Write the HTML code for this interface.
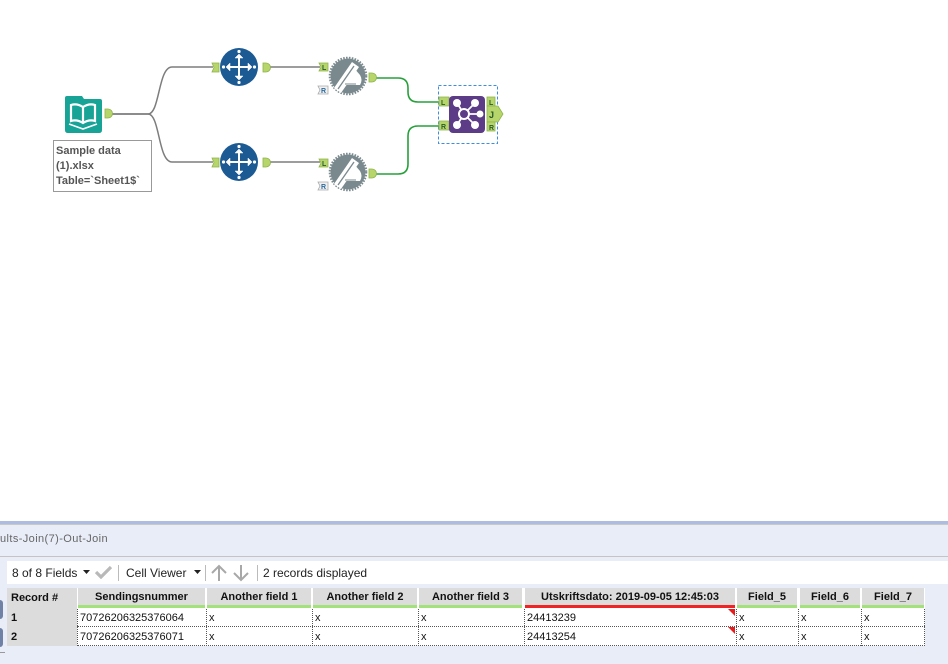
<!DOCTYPE html>
<html><head><meta charset="utf-8"><style>
*{margin:0;padding:0;box-sizing:border-box}
body{width:948px;height:664px;overflow:hidden;background:#fff;font-family:"Liberation Sans",sans-serif;position:relative}
.a{position:absolute}
.hd{position:absolute;top:588px;height:20px;background:#dcdcdc;border-bottom:3px solid #a3e27b;font-weight:bold;font-size:11px;color:#111;text-align:center;line-height:18px;white-space:nowrap}
.vl{position:absolute;width:0;border-left:1px dotted #555;top:609px;height:37px}
.tx{position:absolute;font-size:11px;color:#111;white-space:nowrap;line-height:12px}
</style></head><body>
<svg class="a" style="left:0;top:0" width="948" height="521" viewBox="0 0 948 521">
<g fill="none" stroke="#7d7d7d" stroke-width="1.5">
<path d="M110,114 H148 C160,114 158,67 172,67 H213"/>
<path d="M110,114 H148 C160,114 158,162 172,162 H213"/>
<path d="M270,67 H320"/>
<path d="M270,162 H320"/>
</g>
<g fill="none" stroke="#26a03a" stroke-width="1.6">
<path d="M375,78 H398 Q408,78 408,88 V92 Q408,102 418,102 H440"/>
<path d="M375,174 H398 Q408,174 408,164 V136 Q408,126 418,126 H440"/>
</g>
<path d="M65,98 Q65,96 67,96 H82 L84,99 H100 Q102,99 102,101 V130 Q102,133 99,133 H68 Q65,133 65,130 Z" fill="#17a396"/>
<g fill="none" stroke="#fff" stroke-width="2.2">
<path d="M71,105 Q77,103 83,107 Q89,103 95,105 V121 Q89,119 83,123 Q77,119 71,121 Z"/>
<path d="M83,107 V123"/>
<path d="M69,124 L83,129 L97,124" stroke-width="1.6"/>
</g>
<path d="M105,109 h3 a4.5 4.5 0 0 1 0 9 h-3 z" fill="#b6d66b" stroke="#8fb34a" stroke-width="0.8"/>
<rect x="53.5" y="140.5" width="98" height="51" fill="#fff" stroke="#999"/>
<g font-family="Liberation Sans,sans-serif" font-size="11" font-weight="bold" fill="#555">
<text x="56" y="154">Sample data</text>
<text x="56" y="169">(1).xlsx</text>
<text x="56" y="184">Table=`Sheet1$`</text>
</g>
<g id="sel">
<path d="M212,63 h7 v9 h-7 l2,-4.5 z" fill="#b6d66b" stroke="#8fb34a" stroke-width="0.8"/>
<circle cx="239" cy="67" r="19" fill="#1b5a93"/>
<g stroke="#fff" stroke-width="2" fill="#fff">
<path d="M229,67 H249 M239,57 V77"/>
<path d="M226,67 l4,-4 v8 z M252,67 l-4,-4 v8 z M239,54 l-4,4 h8 z M239,80 l-4,-4 h8 z" stroke-width="0.5"/>
<circle cx="223.5" cy="67" r="1.6" stroke="none"/><circle cx="254.5" cy="67" r="1.6" stroke="none"/>
<circle cx="239" cy="51.5" r="1.6" stroke="none"/><circle cx="239" cy="82.5" r="1.6" stroke="none"/>
</g>
<path d="M263,63 h3 a4.5 4.5 0 0 1 0 9 h-3 z" fill="#b6d66b" stroke="#8fb34a" stroke-width="0.8"/>
</g>
<use href="#sel" transform="translate(0,95)"/>
<g id="frm">
<path d="M319,63 h9 v8 h-9 l2,-4 z" fill="#b6d66b" stroke="#8fb34a" stroke-width="0.8"/>
<text x="322" y="70" font-family="Liberation Sans,sans-serif" font-size="7" font-weight="bold" fill="#2a5a2a">L</text>
<path d="M318,86 h10 v8 h-10 l2,-4 z" fill="#f0f0f0" stroke="#aaa" stroke-width="0.8"/>
<text x="321" y="93" font-family="Liberation Sans,sans-serif" font-size="7" font-weight="bold" fill="#2a6aa0">R</text>
<circle cx="348" cy="76" r="17.5" fill="#7a898d"/>
<circle cx="348" cy="76" r="18.3" fill="none" stroke="#7a898d" stroke-width="2" stroke-dasharray="1.6 1.3"/>
<path d="M343,85 L360,85 Q363,80 360,75 L354,68 Z" fill="#fff"/>
<path d="M334,88 L352,62 L359,67 L341,93 Z" fill="#fff"/>
<path d="M338,89 L354,66" stroke="#7a898d" stroke-width="1.3"/>
<path d="M345,84 L356,84" stroke="#7a898d" stroke-width="1"/>
<path d="M369,73 h3 a4.5 4.5 0 0 1 0 9 h-3 z" fill="#b6d66b" stroke="#8fb34a" stroke-width="0.8"/>
</g>
<use href="#frm" transform="translate(0,96)"/>
<rect x="438.5" y="85.5" width="59" height="58" fill="none" stroke="#3d8ee0" stroke-width="1" stroke-dasharray="3 2"/>
<path d="M439,97 h10 v9 h-10 z" fill="#b6d66b" stroke="#8fb34a" stroke-width="0.8"/>
<text x="441" y="105" font-family="Liberation Sans,sans-serif" font-size="7" font-weight="bold" fill="#2a5a2a">L</text>
<path d="M439,121 h10 v9 h-10 z" fill="#b6d66b" stroke="#8fb34a" stroke-width="0.8"/>
<text x="441" y="129" font-family="Liberation Sans,sans-serif" font-size="7" font-weight="bold" fill="#2a5a2a">R</text>
<rect x="449" y="96" width="36" height="37" rx="4" fill="#5c3b87"/>
<g stroke="#fff" stroke-width="1.8" fill="none">
<path d="M464,114 L457,103 M464,114 L475,103 M464,114 L480,114 M464,114 L457,125 M464,114 L475,125"/>
</g>
<circle cx="464" cy="114" r="5" fill="#5c3b87" stroke="#fff" stroke-width="2"/>
<g fill="#fff"><circle cx="457" cy="103" r="4"/><circle cx="475" cy="103" r="4"/><circle cx="480" cy="114" r="3.5"/><circle cx="457" cy="125" r="4"/><circle cx="475" cy="125" r="4"/></g>
<path d="M487,97 h8 v9 h-8 z" fill="#b6d66b" stroke="#8fb34a" stroke-width="0.8"/>
<text x="489" y="105" font-family="Liberation Sans,sans-serif" font-size="7" font-weight="bold" fill="#2a5a2a">L</text>
<path d="M487,106 h11 l5,8 l-5,8 h-11 z" fill="#b6d66b" stroke="#8fb34a" stroke-width="0.8"/>
<text x="489" y="118" font-family="Liberation Sans,sans-serif" font-size="9" font-weight="bold" fill="#2a5a2a">J</text>
<path d="M487,122 h8 v9 h-8 z" fill="#b6d66b" stroke="#8fb34a" stroke-width="0.8"/>
<text x="489" y="130" font-family="Liberation Sans,sans-serif" font-size="7" font-weight="bold" fill="#2a5a2a">R</text>
</svg>

<div class="a" style="left:0;top:521px;width:948px;height:143px;background:#e9edf8"></div>
<div class="a" style="left:0;top:521px;width:948px;height:3px;background:#aebcdf"></div>
<div class="a" style="left:0;top:524px;width:948px;height:1px;background:#c9c9c9"></div>
<div class="a" style="left:0;top:533px;font-size:11px;color:#666;letter-spacing:0.4px;white-space:nowrap">ults-Join(7)-Out-Join</div>
<div class="a" style="left:0;top:556px;width:948px;height:1px;background:#c4c4c4"></div>
<div class="a" style="left:0;top:600px;width:3px;height:19px;background:#6f82a6;border-radius:0 3px 3px 0"></div>
<div class="a" style="left:0;top:628px;width:3px;height:19px;background:#6f82a6;border-radius:0 3px 3px 0"></div>
<div class="a" style="left:0;top:652px;width:5px;height:1px;background:#999"></div>

<div class="a" style="left:7px;top:561px;width:941px;height:23px;background:#fff"></div>
<div class="a" style="left:12px;top:566px;font-size:12px;color:#222;white-space:nowrap">8 of 8 Fields</div>
<svg class="a" style="left:83px;top:570px" width="8" height="6"><path d="M0,0 H7 L3.5,4 Z" fill="#222"/></svg>
<svg class="a" style="left:95px;top:565px" width="17" height="14"><path d="M1,7 L6,12 L16,2" fill="none" stroke="#b9b9b9" stroke-width="3.2"/></svg>
<div class="a" style="left:118px;top:565px;width:1px;height:16px;background:#bbb"></div>
<div class="a" style="left:126px;top:566px;font-size:12px;color:#222;white-space:nowrap">Cell Viewer</div>
<svg class="a" style="left:194px;top:570px" width="8" height="6"><path d="M0,0 H7 L3.5,4 Z" fill="#222"/></svg>
<div class="a" style="left:205px;top:565px;width:1px;height:16px;background:#bbb"></div>
<svg class="a" style="left:211px;top:563px" width="40" height="20"><g fill="none" stroke="#a8a8a8" stroke-width="2"><path d="M8,18 V3 M1,10 L8,3 L15,10"/><path d="M30,2 V17 M23,10 L30,17 L37,10"/></g></svg>
<div class="a" style="left:257px;top:565px;width:1px;height:16px;background:#bbb"></div>
<div class="a" style="left:263px;top:566px;font-size:12px;color:#222;white-space:nowrap">2 records displayed</div>

<div class="a" style="left:7px;top:588px;width:918px;height:58px;background:#fff"></div>
<div class="a" style="left:7px;top:588px;width:70px;height:58px;background:#dcdcdc"></div>
<div class="tx" style="left:11px;top:592px;font-weight:bold">Record #</div>
<div class="tx" style="left:11px;top:612px;font-weight:bold">1</div>
<div class="tx" style="left:11px;top:631px;font-weight:bold">2</div>

<div class="hd" style="left:78px;width:127px">Sendingsnummer</div>
<div class="hd" style="left:207px;width:104px">Another field 1</div>
<div class="hd" style="left:313px;width:104px">Another field 2</div>
<div class="hd" style="left:419px;width:103px">Another field 3</div>
<div class="hd" style="left:525px;width:210px;border-bottom-color:#f02424">Utskriftsdato: 2019-09-05 12:45:03</div>
<div class="hd" style="left:737px;width:60px">Field_5</div>
<div class="hd" style="left:800px;width:60px">Field_6</div>
<div class="hd" style="left:862px;width:62px">Field_7</div>

<div class="a" style="left:77px;top:626px;width:848px;height:0;border-top:1px dotted #555"></div>
<div class="a" style="left:77px;top:645px;width:848px;height:0;border-top:1px dotted #555"></div>
<div class="vl" style="left:77px"></div>
<div class="vl" style="left:206px"></div>
<div class="vl" style="left:312px"></div>
<div class="vl" style="left:418px"></div>
<div class="vl" style="left:524px"></div>
<div class="vl" style="left:736px"></div>
<div class="vl" style="left:798px"></div>
<div class="vl" style="left:861px"></div>
<div class="vl" style="left:924px"></div>

<svg class="a" style="left:728px;top:609px" width="8" height="30"><path d="M0,0 H7 V7 Z M0,18 H7 V25 Z" fill="#e81c1c"/></svg>

<div class="tx" style="left:80px;top:612px">70726206325376064</div>
<div class="tx" style="left:80px;top:631px">70726206325376071</div>
<div class="tx" style="left:209px;top:612px">x</div><div class="tx" style="left:209px;top:631px">x</div>
<div class="tx" style="left:315px;top:612px">x</div><div class="tx" style="left:315px;top:631px">x</div>
<div class="tx" style="left:421px;top:612px">x</div><div class="tx" style="left:421px;top:631px">x</div>
<div class="tx" style="left:527px;top:612px">24413239</div>
<div class="tx" style="left:527px;top:631px">24413254</div>
<div class="tx" style="left:739px;top:612px">x</div><div class="tx" style="left:739px;top:631px">x</div>
<div class="tx" style="left:801px;top:612px">x</div><div class="tx" style="left:801px;top:631px">x</div>
<div class="tx" style="left:864px;top:612px">x</div><div class="tx" style="left:864px;top:631px">x</div>
</body></html>
